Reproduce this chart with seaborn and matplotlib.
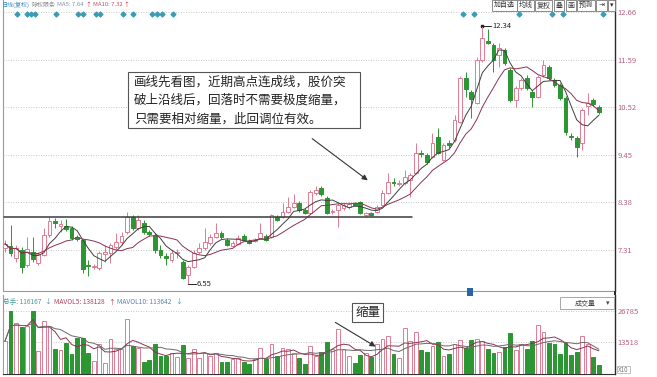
import numpy as np
import pandas as pd
import seaborn as sns
import matplotlib.pyplot as plt
from matplotlib.patches import Rectangle

# daily candles (price)
opens = [7.35, 7.40, 7.13, 7.31, 6.97, 7.27, 7.02, 7.20, 7.65, 7.96,
         7.85, 7.85, 7.80, 7.60, 7.53, 6.97, 6.93, 6.91, 7.22, 7.24,
         7.38, 7.49, 7.71, 8.05, 7.80, 7.92, 7.71, 7.65, 7.31, 7.18,
         7.09, 7.24, 7.04, 6.75, 6.93, 7.27, 7.35, 7.47, 7.60, 7.69,
         7.53, 7.40, 7.45, 7.62, 7.51, 7.51, 7.58, 7.62, 7.60, 8.05,
         8.05, 8.16, 8.28, 8.37, 8.21, 8.14, 8.59, 8.70, 8.48, 8.16,
         8.21, 8.25, 8.28, 8.37, 8.39, 8.10, 8.14, 8.16, 8.32, 8.59,
         8.84, 8.79, 8.82, 8.88, 9.04, 9.49, 9.45, 9.40, 9.85, 9.33,
         9.72, 9.78, 10.19, 11.18, 10.86, 10.61, 11.58, 12.01, 11.92, 11.69,
         11.81, 11.36, 10.68, 10.95, 11.18, 10.86, 10.75, 11.24, 11.42, 11.13,
         11.02, 10.73, 9.87, 9.83, 9.72, 10.55, 10.68, 10.52]
highs = [7.53, 7.87, 7.42, 7.38, 7.60, 7.60, 7.27, 7.80, 8.05, 8.03,
         7.98, 8.01, 7.85, 7.65, 7.56, 7.09, 7.00, 7.29, 7.42, 7.47,
         7.69, 7.71, 8.16, 8.10, 8.10, 7.98, 7.76, 7.69, 7.42, 7.24,
         7.31, 7.33, 7.09, 6.97, 7.31, 7.47, 7.80, 7.67, 7.92, 7.74,
         7.58, 7.51, 7.65, 7.67, 7.56, 7.58, 7.92, 7.67, 8.12, 8.10,
         8.37, 8.50, 8.57, 8.41, 8.25, 8.66, 8.75, 8.75, 8.52, 8.23,
         8.37, 8.37, 8.39, 8.39, 8.41, 8.16, 8.16, 8.32, 8.66, 9.04,
         8.93, 8.88, 9.11, 9.04, 9.72, 9.56, 9.49, 9.94, 10.05, 9.72,
         9.78, 10.35, 11.22, 11.31, 10.91, 11.65, 12.34, 12.28, 11.96, 11.96,
         11.85, 11.40, 11.00, 11.18, 11.24, 10.91, 11.24, 11.58, 11.47, 11.18,
         11.06, 10.77, 9.94, 9.87, 10.50, 10.84, 10.73, 10.57]
lows = [7.27, 7.18, 7.04, 6.79, 6.93, 7.04, 6.97, 7.18, 7.60, 7.80,
        7.71, 7.74, 7.53, 7.51, 6.79, 6.73, 6.88, 6.86, 7.04, 7.02,
        7.33, 7.42, 7.67, 7.76, 7.76, 7.67, 7.62, 7.24, 7.13, 6.97,
        7.04, 7.13, 6.66, 6.55, 6.91, 7.22, 7.31, 7.42, 7.58, 7.56,
        7.40, 7.38, 7.42, 7.51, 7.45, 7.49, 7.56, 7.51, 7.58, 7.96,
        8.03, 8.14, 8.25, 8.16, 8.12, 8.12, 8.55, 8.52, 8.12, 8.12,
        7.83, 8.21, 8.23, 8.30, 8.12, 8.05, 8.07, 8.14, 8.30, 8.57,
        8.75, 8.75, 8.77, 8.50, 9.02, 9.40, 9.24, 9.38, 9.47, 9.31,
        9.60, 9.74, 10.16, 10.75, 10.28, 10.59, 11.54, 11.94, 11.31, 11.42,
        11.47, 10.64, 10.52, 10.91, 10.91, 10.52, 10.73, 11.20, 11.13, 10.97,
        10.68, 9.90, 9.78, 9.40, 9.56, 10.35, 10.55, 10.37]
closes = [7.45, 7.24, 7.35, 6.93, 7.33, 7.11, 7.22, 7.65, 7.96, 7.92,
          7.89, 7.78, 7.58, 7.56, 6.88, 6.95, 6.95, 7.24, 7.27, 7.42,
          7.49, 7.62, 8.05, 7.80, 7.98, 7.71, 7.67, 7.31, 7.20, 7.13,
          7.24, 7.27, 6.68, 6.93, 7.24, 7.35, 7.49, 7.60, 7.69, 7.60,
          7.42, 7.47, 7.58, 7.53, 7.47, 7.53, 7.69, 7.53, 8.10, 7.98,
          8.16, 8.28, 8.37, 8.21, 8.14, 8.61, 8.66, 8.57, 8.14, 8.19,
          8.32, 8.32, 8.34, 8.32, 8.14, 8.14, 8.10, 8.28, 8.59, 8.84,
          8.82, 8.82, 8.95, 9.00, 9.49, 9.47, 9.29, 9.72, 9.49, 9.67,
          9.67, 10.23, 11.18, 10.93, 10.70, 11.58, 12.08, 11.96, 11.58, 11.85,
          11.51, 10.68, 10.95, 11.13, 10.95, 10.75, 11.20, 11.47, 11.18, 11.02,
          10.73, 9.96, 9.85, 9.63, 10.46, 10.61, 10.59, 10.41]
volumes = [14100, 27000, 21800, 20100, 20500, 27000, 9800, 22700, 20500, 10700,
           10300, 13300, 8500, 15400, 15400, 9000, 5600, 12800, 4700, 15000,
           10700, 10700, 23500, 12000, 11100, 5100, 6000, 12800, 7700, 7700,
           9000, 7300, 12400, 6800, 10700, 6800, 9000, 7700, 9000, 5100,
           5100, 6400, 6800, 5100, 4300, 6400, 11100, 6400, 12800, 7700,
           11100, 10700, 9000, 6800, 4300, 12000, 7700, 9400, 13700, 10700,
           19300, 10700, 7700, 4700, 8100, 9000, 7300, 12800, 15000, 16300,
           8600, 6800, 19700, 14100, 18000, 10300, 9400, 12000, 13700, 7700,
           8600, 12800, 14600, 11100, 14600, 15000, 14100, 10700, 9000, 9400,
           11600, 17500, 10300, 12800, 10700, 14100, 21000, 18000, 13300, 12800,
           8600, 13300, 8100, 9400, 16300, 12800, 7300, 3900]

price_ticks = [12.66, 11.59, 10.52, 9.45, 8.38, 7.31]
vol_ticks = [26785, 13518]
marker_days = [2.2, 4.0, 4.7, 5.4, 9.2, 13.2, 14.1, 16.4, 17.1, 21.3, 23.1,
               26.5, 27.4, 28.3, 30.3, 82.5, 84.5, 92.6, 98.6, 100.5, 107.7]
marker_level = 12.62
trend_level = 8.05
trend_days = [-0.2, 73.3]
high_day, high_price = 86, 12.34
low_day, low_price = 33, 6.55

RED = '#e07b92'
GREEN = '#2b9632'
GRID = '#b5b5b5'
TICKC = '#b9607e'

sns.set_style('white')
plt.rcParams['font.family'] = ['Noto Sans CJK SC', 'DejaVu Sans']

W, H = 657, 377
def fx(x):
    return x / W
def fy(y):
    return 1 - y / H

fig = plt.figure(figsize=(6.57, 3.77), dpi=100)
ax = fig.add_axes([fx(3), fy(291), fx(615) - fx(3), fy(0) - fy(291)])
axv = fig.add_axes([fx(3), fy(374), fx(615) - fx(3), fy(295) - fy(374)])

df = pd.DataFrame({'day': np.arange(len(closes)), 'open': opens, 'high': highs,
                   'low': lows, 'close': closes, 'vol': volumes})
df['up'] = df['close'] >= df['open']
df['ma5'] = df['close'].rolling(5, min_periods=1).mean()
df['ma10'] = df['close'].rolling(10, min_periods=1).mean()
df['mv5'] = df['vol'].rolling(5, min_periods=1).mean()
df['mv10'] = df['vol'].rolling(10, min_periods=1).mean()
up = df[df['up']]
dn = df[~df['up']]

# candles
ax.vlines(up['day'], up['low'], up['high'], color=RED, lw=0.7, zorder=2)
ax.vlines(dn['day'], dn['low'], dn['high'], color=GREEN, lw=0.7, zorder=2)
ax.bar(up['day'], (up['close'] - up['open']).clip(lower=0.02), bottom=up['open'],
       width=0.68, facecolor='white', edgecolor=RED, lw=0.7, zorder=3)
ax.bar(dn['day'], (dn['open'] - dn['close']).clip(lower=0.02), bottom=dn['close'],
       width=0.68, facecolor=GREEN, edgecolor=GREEN, lw=0.7, zorder=3)

sns.lineplot(data=df, x='day', y='ma5', ax=ax, color='#3f3f3f', lw=0.7, zorder=4)
sns.lineplot(data=df, x='day', y='ma10', ax=ax, color='#8a3352', lw=0.7, zorder=4)

ax.plot(trend_days, [trend_level, trend_level], color='#3a3a3a', lw=1.1, zorder=5)
ax.scatter(marker_days, [marker_level] * len(marker_days), marker='D', s=6,
           color='#3c9cb4', zorder=6, clip_on=False)

ax.plot([high_day, high_day + 1.6], [high_price, high_price], color='#222', lw=0.7)
ax.scatter([high_day], [high_price], marker='s', s=4, color='#222')
ax.text(high_day + 1.8, high_price, '12.34', fontsize=5.5, va='center', color='#222')
ax.plot([low_day, low_day + 1.4], [low_price, low_price], color='#222', lw=0.7)
ax.text(low_day + 1.6, low_price, '6.55', fontsize=5.5, va='center', color='#222')

ax.set_xlim(-0.36, 109.9)
ax.set_ylim(6.39, 12.93)
ax.set_xticks([])
ax.yaxis.tick_right()
ax.set_yticks(price_ticks)
ax.set_yticklabels(['%.2f' % t for t in price_ticks])
ax.tick_params(axis='y', length=0, pad=2, labelsize=5.5, labelcolor=TICKC)
ax.grid(axis='y', color=GRID, lw=0.6, ls=(0, (1, 2)))
ax.set_xlabel('')
ax.set_ylabel('')

# volume
axv.bar(up['day'], up['vol'], width=0.68, facecolor='white', edgecolor=RED, lw=0.7, zorder=3)
axv.bar(dn['day'], dn['vol'], width=0.68, facecolor=GREEN, edgecolor=GREEN, lw=0.7, zorder=3)
sns.lineplot(data=df, x='day', y='mv5', ax=axv, color='#8a3352', lw=0.7, zorder=4)
sns.lineplot(data=df, x='day', y='mv10', ax=axv, color='#6a6a6a', lw=0.7, zorder=4)
axv.set_xlim(-0.36, 109.9)
axv.set_ylim(0, 33800)
axv.set_xticks([])
axv.yaxis.tick_right()
axv.set_yticks(vol_ticks)
axv.set_yticklabels([str(t) for t in vol_ticks])
axv.tick_params(axis='y', length=0, pad=2, labelsize=5.5, labelcolor=TICKC)
axv.grid(axis='y', color=GRID, lw=0.6, ls=(0, (1, 2)))
axv.set_xlabel('')
axv.set_ylabel('')

for a in (ax, axv):
    a.spines['top'].set_visible(False)
    a.spines['left'].set_color('#9a9a9a')
    a.spines['left'].set_linewidth(0.8)
    a.spines['right'].set_color('#2a2a2a')
    a.spines['right'].set_linewidth(1.0)
ax.spines['bottom'].set_color('#9a9a9a')
ax.spines['bottom'].set_linewidth(0.8)
axv.spines['bottom'].set_color('#333333')
axv.spines['bottom'].set_linewidth(0.8)
fig.add_artist(Rectangle((fx(614), fy(295)), fx(2), fy(291) - fy(295), color='#2a2a2a', lw=0))


def text_row(x0, y, parts, size, gap=1.5):
    # place coloured pieces one after another, measured in pixels
    renderer = fig.canvas.get_renderer()
    x = x0
    for s, c in parts:
        t = fig.text(fx(x), fy(y), s, color=c, fontsize=size, va='center')
        x += t.get_window_extent(renderer).width + gap


text_row(2, 5, [('日线(复权)', '#3d8fc0'), ('除权限条', '#8a8a8a'),
                ('MA5: 7.64', '#7f93a8'), ('↑', '#c03040'),
                ('MA10: 7.32', '#c0506a'), ('↑', '#c03040')], 4.3)
text_row(3, 302, [('总手: 116167', '#4a9a9a'), ('↓', '#4a8ac0'),
                  ('MAVOL5: 138128', '#b04060'), ('↑', '#c03040'),
                  ('MAVOL10: 113642', '#5a84b0'), ('↓', '#4a8ac0')], 4.8, gap=3)

# toolbar buttons
buttons = [('加自选', 492, 517), ('均线', 517, 534), ('复权', 535, 552), ('叠', 554, 564),
           ('画', 566, 576), ('预测', 577, 595), ('⇥', 596, 607), ('▾', 608, 615)]
for label, x0, x1 in buttons:
    fig.add_artist(Rectangle((fx(x0), fy(11)), fx(x1) - fx(x0), fy(0) - fy(11),
                             facecolor='white', edgecolor='#777', lw=0.6))
    fig.text(fx((x0 + x1) / 2), fy(5.5), label, fontsize=5, ha='center', va='center', color='#333')

fig.add_artist(Rectangle((fx(560), fy(309)), fx(614) - fx(560), fy(297) - fy(309),
                         facecolor='white', edgecolor='#999', lw=0.6))
fig.text(fx(585), fy(303), '成交量', fontsize=5, ha='center', va='center', color='#444')
fig.text(fx(608), fy(303), '▾', fontsize=5, ha='center', va='center', color='#444')
fig.add_artist(Rectangle((fx(617), fy(373)), fx(13), fy(366) - fy(373),
                         facecolor='white', edgecolor='#aaa', lw=0.5))
fig.text(fx(623.5), fy(369.5), 'X10', fontsize=4.5, ha='center', va='center', color='#777')
fig.add_artist(Rectangle((fx(467), fy(296)), fx(6), fy(288) - fy(296), color='#2a64a8', lw=0))

# notes
fig.add_artist(Rectangle((fx(128), fy(128)), fx(360) - fx(128), fy(72) - fy(128),
                         facecolor='white', edgecolor='#555', lw=0.8, zorder=10))
notes = ['画线先看图，近期高点连成线，股价突',
         '破上沿线后，回落时不需要极度缩量，',
         '只需要相对缩量，此回调位有效。']
for k, line in enumerate(notes):
    fig.text(fx(134), fy(82 + 18.5 * k), line, fontsize=9, va='center', color='#222', zorder=11)

fig.add_artist(Rectangle((fx(352), fy(322)), fx(383) - fx(352), fy(303) - fy(322),
                         facecolor='white', edgecolor='#555', lw=0.8, zorder=10))
fig.text(fx(367.5), fy(312.5), '缩量', fontsize=9, ha='center', va='center', color='#222', zorder=11)

ax.annotate('', xy=(370, H - 182), xytext=(310, H - 137), xycoords='figure pixels',
            textcoords='figure pixels',
            arrowprops=dict(arrowstyle='-|>', color='#333', lw=0.8, mutation_scale=8))
axv.annotate('', xy=(378, H - 348), xytext=(333, H - 321), xycoords='figure pixels',
             textcoords='figure pixels',
             arrowprops=dict(arrowstyle='-|>', color='#333', lw=0.8, mutation_scale=8))

fig.savefig('out.png', dpi=100)
